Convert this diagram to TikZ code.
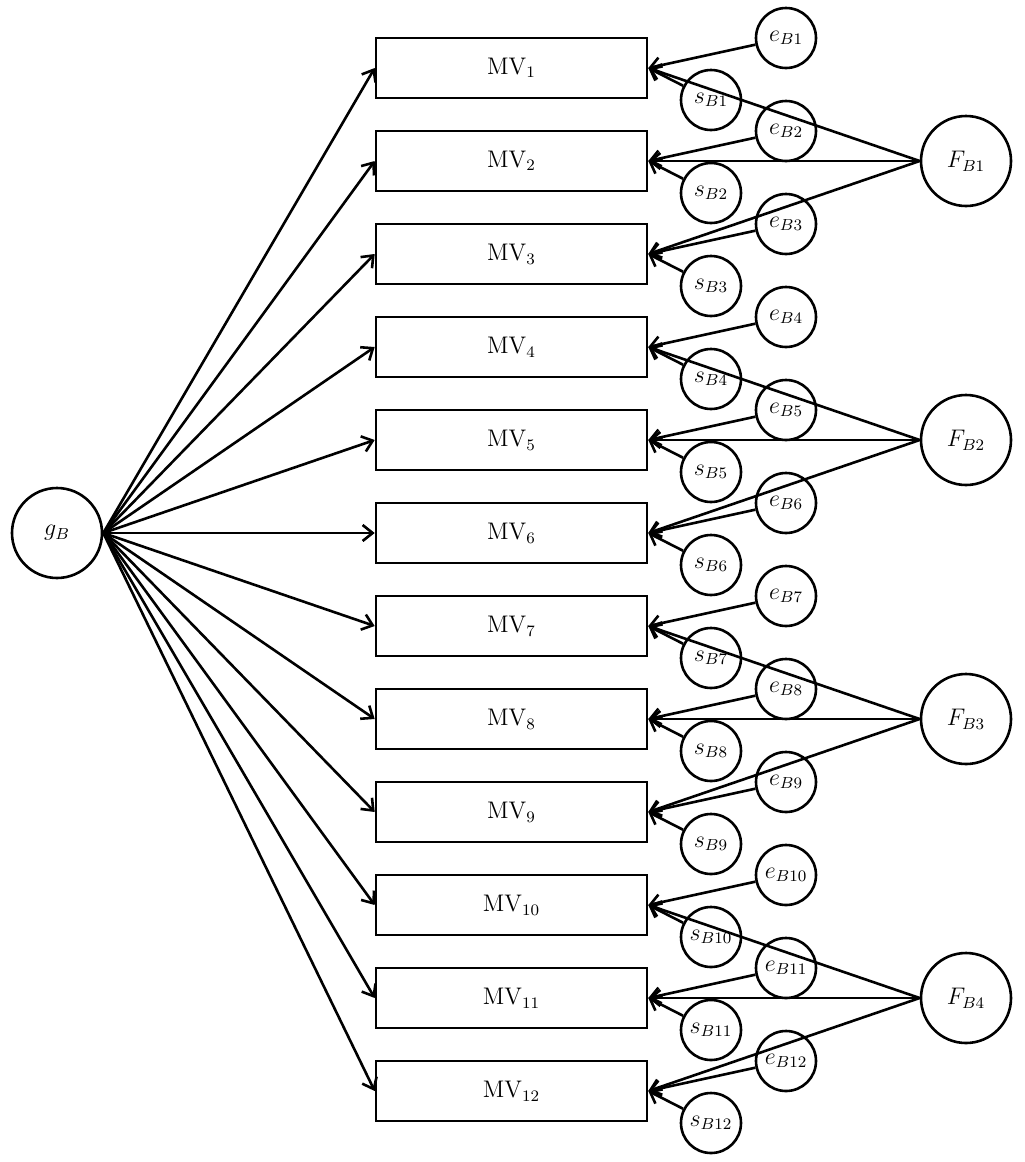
\documentclass[tikz,border=0pt]{standalone}
\usetikzlibrary{arrows.meta}
\begin{document}
\begin{tikzpicture}[x=0.5pt,y=-0.5pt,
  box/.style={draw,line width=1.3pt,minimum width=135.5pt,minimum height=30pt,inner sep=0pt,font=\large},
  big/.style={draw,circle,line width=1.3pt,minimum size=45pt,inner sep=0pt,font=\large},
  small/.style={draw,circle,line width=1.3pt,minimum size=30pt,inner sep=0pt,font=\large},
  arr/.style={line width=1.3pt,-{Straight Barb[length=5pt,width=8pt]}}]
\useasboundingbox (0,0) rectangle (1024,1162);
\node[big] (g) at (57,533) {$g_B$};
\foreach \i in {1,...,12}{
  \pgfmathsetmacro{\yy}{68+93*(\i-1)}
  \node[box] (m\i) at (511.5,\yy) {MV$_{\i}$};
  \node[small] (e\i) at (786,\yy-30) {$e_{B\i}$};
  \node[small] (s\i) at (711,\yy+32) {$s_{B\i}$};
}
\foreach \k in {1,...,4}{
  \pgfmathsetmacro{\yy}{161+279*(\k-1)}
  \node[big] (F\k) at (966,\yy) {$F_{B\k}$};
}
\foreach \i in {1,...,12}{
  \draw[arr] (g.east) -- (m\i.west);
  \draw[arr] (e\i) -- (m\i.east);
  \draw[arr] (s\i) -- (m\i.east);
}
\foreach \k/\a/\b/\c in {1/1/2/3,2/4/5/6,3/7/8/9,4/10/11/12}{
  \draw[arr] (F\k.west) -- (m\a.east);
  \draw[arr] (F\k.west) -- (m\b.east);
  \draw[arr] (F\k.west) -- (m\c.east);
}
\end{tikzpicture}
\end{document}
